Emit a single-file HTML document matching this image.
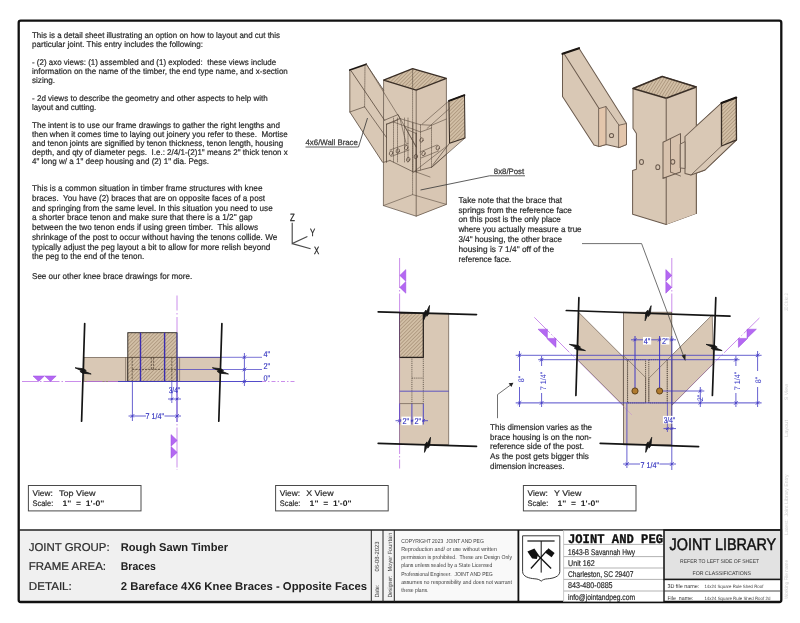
<!DOCTYPE html>
<html lang="en">
<head>
<meta charset="utf-8">
<title>2 Bareface 4X6 Knee Braces - Opposite Faces</title>
<style>
html,body{margin:0;padding:0;background:#fff;}
body{width:800px;height:623px;overflow:hidden;}
svg{display:block;will-change:transform;filter:blur(0.45px);font-family:"Liberation Sans",sans-serif;fill:#2a2a2a;}
svg text{white-space:pre;text-rendering:geometricPrecision;}
#para1 text,#para2 text,#note1 text,#note2 text{stroke:#2a2a2a;stroke-width:0.2px;}
</style>
</head>
<body>
<svg width="800" height="623" viewBox="0 0 800 623">
<defs>
<pattern id="hatch" width="2.6" height="2.6" patternUnits="userSpaceOnUse" patternTransform="rotate(-45)">
<rect width="2.6" height="2.6" fill="#d2bfa6"/>
<line x1="0" y1="1.3" x2="2.6" y2="1.3" stroke="#9c866c" stroke-width="0.6"/>
</pattern>
<pattern id="hatch2" width="2.6" height="2.6" patternUnits="userSpaceOnUse" patternTransform="rotate(-58)">
<rect width="2.6" height="2.6" fill="#d2bfa6"/>
<line x1="0" y1="1.3" x2="2.6" y2="1.3" stroke="#9c866c" stroke-width="0.6"/>
</pattern>
</defs>
<rect x="0" y="0" width="800" height="623" fill="#ffffff"/>
<rect x="18.7" y="530" width="352.6" height="72" fill="#f0f0f0"/>
<rect x="371.3" y="530" width="23" height="72" fill="#f3f3f3"/>
<rect x="394.3" y="530" width="124" height="72" fill="#f9f9f9"/>
<rect x="664" y="530" width="117.3" height="49.4" fill="#e2e2e2"/>
<rect x="18.7" y="20.7" width="762.6" height="581.3" rx="2" ry="2" fill="none" stroke="#111" stroke-width="2.3"/>
<line x1="18.7" y1="530" x2="781.3" y2="530" stroke="#222" stroke-width="1.3"/>
<g id="para1">
<text x="32" y="37.6" font-size="8.2" textLength="248" lengthAdjust="spacingAndGlyphs">This is a detail sheet illustrating an option on how to layout and cut this</text>
<text x="32" y="46.64" font-size="8.2" textLength="171" lengthAdjust="spacingAndGlyphs">particular joint. This entry includes the following:</text>
<text x="32" y="64.72" font-size="8.2" textLength="244.2" lengthAdjust="spacingAndGlyphs">- (2) axo views: (1) assembled and (1) exploded:  these views include</text>
<text x="32" y="73.76" font-size="8.2" textLength="255.8" lengthAdjust="spacingAndGlyphs">information on the name of the timber, the end type name, and x-section</text>
<text x="32" y="82.8" font-size="8.2" textLength="23" lengthAdjust="spacingAndGlyphs">sizing.</text>
<text x="32" y="100.88" font-size="8.2" textLength="235.8" lengthAdjust="spacingAndGlyphs">- 2d views to describe the geometry and other aspects to help with</text>
<text x="32" y="109.92" font-size="8.2" textLength="64.3" lengthAdjust="spacingAndGlyphs">layout and cutting.</text>
<text x="32" y="128.0" font-size="8.2" textLength="248" lengthAdjust="spacingAndGlyphs">The intent is to use our frame drawings to gather the right lengths and</text>
<text x="32" y="137.04" font-size="8.2" textLength="255.8" lengthAdjust="spacingAndGlyphs">then when it comes time to laying out joinery you refer to these.  Mortise</text>
<text x="32" y="146.08" font-size="8.2" textLength="251.2" lengthAdjust="spacingAndGlyphs">and tenon joints are signified by tenon thickness, tenon length, housing</text>
<text x="32" y="155.12" font-size="8.2" textLength="255.8" lengthAdjust="spacingAndGlyphs">depth, and qty of diameter pegs.  I.e.: 2/4/1-(2)1" means 2" thick tenon x</text>
<text x="32" y="164.16" font-size="8.2" textLength="177" lengthAdjust="spacingAndGlyphs">4" long w/ a 1" deep housing and (2) 1" dia. Pegs.</text>
</g>
<g id="para2">
<text x="32" y="191.0" font-size="8.5" textLength="230.5" lengthAdjust="spacingAndGlyphs">This is a common situation in timber frame structures with knee</text>
<text x="32" y="200.75" font-size="8.5" textLength="233" lengthAdjust="spacingAndGlyphs">braces.  You have (2) braces that are on opposite faces of a post</text>
<text x="32" y="210.5" font-size="8.5" textLength="240.7" lengthAdjust="spacingAndGlyphs">and springing from the same level. In this situation you need to use</text>
<text x="32" y="220.25" font-size="8.5" textLength="220.7" lengthAdjust="spacingAndGlyphs">a shorter brace tenon and make sure that there is a 1/2" gap</text>
<text x="32" y="230.0" font-size="8.5" textLength="226" lengthAdjust="spacingAndGlyphs">between the two tenon ends if using green timber.  This allows</text>
<text x="32" y="239.75" font-size="8.5" textLength="245.3" lengthAdjust="spacingAndGlyphs">shrinkage of the post to occur without having the tenons collide. We</text>
<text x="32" y="249.5" font-size="8.5" textLength="238.3" lengthAdjust="spacingAndGlyphs">typically adjust the peg layout a bit to allow for more relish beyond</text>
<text x="32" y="259.25" font-size="8.5" textLength="112.3" lengthAdjust="spacingAndGlyphs">the peg to the end of the tenon.</text>
<text x="32" y="278.75" font-size="8.5" textLength="160.2" lengthAdjust="spacingAndGlyphs">See our other knee brace drawings for more.</text>
</g>
<g id="note1">
<text x="458.5" y="202.7" font-size="8.4" textLength="103.6" lengthAdjust="spacingAndGlyphs">Take note that the brace that</text>
<text x="458.5" y="212.55" font-size="8.4" textLength="113.4" lengthAdjust="spacingAndGlyphs">springs from the reference face</text>
<text x="458.5" y="222.4" font-size="8.4" textLength="102.4" lengthAdjust="spacingAndGlyphs">on this post is the only place</text>
<text x="458.5" y="232.25" font-size="8.4" textLength="123.1" lengthAdjust="spacingAndGlyphs">where you actually measure a true</text>
<text x="458.5" y="242.1" font-size="8.4" textLength="103.6" lengthAdjust="spacingAndGlyphs">3/4" housing, the other brace</text>
<text x="458.5" y="251.95" font-size="8.4" textLength="95.6" lengthAdjust="spacingAndGlyphs">housing is 7 1/4" off of the</text>
<text x="458.5" y="261.8" font-size="8.4" textLength="52.8" lengthAdjust="spacingAndGlyphs">reference face.</text>
</g>
<g id="note2">
<text x="490.1" y="429.7" font-size="8.4" textLength="102.0" lengthAdjust="spacingAndGlyphs">This dimension varies as the</text>
<text x="490.1" y="439.55" font-size="8.4" textLength="101.4" lengthAdjust="spacingAndGlyphs">brace housing is on the non-</text>
<text x="490.1" y="449.4" font-size="8.4" textLength="94.0" lengthAdjust="spacingAndGlyphs">reference side of the post.</text>
<text x="490.1" y="459.25" font-size="8.4" textLength="98.8" lengthAdjust="spacingAndGlyphs">As the post gets bigger this</text>
<text x="490.1" y="469.1" font-size="8.4" textLength="74.3" lengthAdjust="spacingAndGlyphs">dimension increases.</text>
</g>
<g id="axo-assembled" stroke-linejoin="round" stroke-linecap="round">
<polygon points="349.8,70 366.3,64.2 383.6,90.2 383.6,162.3 382.6,162.3 349.8,112" fill="#d9c8b5"/>
<polygon points="446.4,103 448.8,100.9 464.5,95.1 465,138 446.4,154" fill="#d9c8b5"/>
<polygon points="383.6,80.1 412.6,68.6 446.4,78.4 446.4,204.4 416.2,216.2 383.4,205.6" fill="#d9c8b5"/>
<polygon points="416.2,90.2 446.4,78.4 446.4,204.4 416.2,216.2" fill="#d8c6b3"/>
<polygon points="383.6,80.1 412.6,68.6 446.4,78.4 416.2,90.2" fill="url(#hatch)" stroke="#3a2f27" stroke-width="1.26"/>
<polygon points="448.9,100.9 464.5,95.1 465,138 449.6,143.2" fill="url(#hatch)" stroke="#3a2f27" stroke-width="1.03"/>
<line x1="448.9" y1="100.9" x2="464.5" y2="95.1" stroke="#1a1512" stroke-width="1.72"/>
<polyline points="383.6,80.1 383.4,205.6 416.2,216.2 446.4,204.4 446.4,78.4" fill="none" stroke="#55463a" stroke-width="0.69"/>
<line x1="416.2" y1="90.2" x2="416.2" y2="216.2" stroke="#55463a" stroke-width="0.69"/>
<line x1="412.6" y1="68.6" x2="412.6" y2="194.6" stroke="#55463a" stroke-width="0.57" stroke-dasharray="0.9 0.9"/>
<polyline points="383.4,205.6 412.6,194.6 446.4,204.4" fill="none" stroke="#55463a" stroke-width="0.57"/>
<polyline points="382.6,162.3 349.8,112 349.8,70" fill="none" stroke="#55463a" stroke-width="0.8"/>
<line x1="349.8" y1="70" x2="366.3" y2="64.2" stroke="#1a1512" stroke-width="1.72"/>
<line x1="366.3" y1="64.2" x2="383.6" y2="90.2" stroke="#55463a" stroke-width="0.8"/>
<line x1="366.3" y1="64.2" x2="397.8" y2="115" stroke="#55463a" stroke-width="0.57"/>
<line x1="351.2" y1="71" x2="384.5" y2="120.2" stroke="#55463a" stroke-width="0.8"/>
<line x1="349.8" y1="112" x2="364.6" y2="106.8" stroke="#55463a" stroke-width="0.69"/>
<line x1="365" y1="64.8" x2="364.6" y2="106.8" stroke="#55463a" stroke-width="0.57" stroke-dasharray="0.9 0.9"/>
<line x1="364.6" y1="106.8" x2="386.5" y2="137.5" stroke="#55463a" stroke-width="0.69"/>
<polyline points="384.5,120.2 398,114.6 400,118.6 386.5,124.2" fill="none" stroke="#55463a" stroke-width="0.69"/>
<line x1="386.5" y1="124.2" x2="386.5" y2="162.3" stroke="#55463a" stroke-width="0.8"/>
<line x1="383.6" y1="162.3" x2="390" y2="160.5" stroke="#55463a" stroke-width="0.69"/>
<line x1="393.5" y1="118" x2="393.5" y2="162" stroke="#55463a" stroke-width="0.57" stroke-dasharray="0.9 0.9"/>
<line x1="397.5" y1="118" x2="397.5" y2="162" stroke="#55463a" stroke-width="0.57" stroke-dasharray="0.9 0.9"/>
<line x1="404.5" y1="118" x2="404.5" y2="162" stroke="#55463a" stroke-width="0.57" stroke-dasharray="0.9 0.9"/>
<line x1="408" y1="118" x2="408" y2="162" stroke="#55463a" stroke-width="0.57" stroke-dasharray="0.9 0.9"/>
<line x1="431.5" y1="125" x2="431.5" y2="168" stroke="#55463a" stroke-width="0.57" stroke-dasharray="0.9 0.9"/>
<polyline points="400,118.6 420,124.6 431.5,125.3 446.4,119" fill="none" stroke="#55463a" stroke-width="0.57"/>
<polyline points="390,160.5 413.5,172 432,167 465,138" fill="none" stroke="#55463a" stroke-width="0.69"/>
<line x1="416.2" y1="133" x2="416.2" y2="172" stroke="#55463a" stroke-width="1.03"/>
<line x1="398" y1="114.6" x2="416.2" y2="147" stroke="#55463a" stroke-width="0.57"/>
<line x1="400" y1="118.6" x2="406" y2="143" stroke="#55463a" stroke-width="0.57"/>
<line x1="422.3" y1="124" x2="448.9" y2="100.9" stroke="#55463a" stroke-width="0.57"/>
<line x1="427" y1="128.5" x2="449.5" y2="108.5" stroke="#55463a" stroke-width="0.57"/>
<line x1="432.6" y1="165.2" x2="449.6" y2="143.2" stroke="#55463a" stroke-width="0.69"/>
<line x1="413.5" y1="172" x2="446.4" y2="146.5" stroke="#55463a" stroke-width="0.57"/>
<line x1="416.2" y1="172" x2="430" y2="177" stroke="#55463a" stroke-width="0.57"/>
<line x1="420.5" y1="125" x2="420.5" y2="170" stroke="#55463a" stroke-width="0.57" stroke-dasharray="0.9 0.9"/>
<line x1="412.8" y1="123" x2="412.8" y2="172" stroke="#55463a" stroke-width="0.8" stroke-dasharray="0.9 0.9"/>
<polyline points="393.5,122 404.5,126 416.2,147" fill="none" stroke="#55463a" stroke-width="0.57"/>
<polyline points="386.5,124.2 393.5,122 398,119.4" fill="none" stroke="#55463a" stroke-width="0.57"/>
<line x1="404.5" y1="126" x2="420.5" y2="132" stroke="#55463a" stroke-width="0.57"/>
<line x1="408" y1="130" x2="416.2" y2="133.5" stroke="#55463a" stroke-width="0.57"/>
<line x1="420.5" y1="132" x2="431.5" y2="128" stroke="#55463a" stroke-width="0.57"/>
<polyline points="431.5,167.4 446.4,154" fill="none" stroke="#55463a" stroke-width="0.57"/>
<line x1="390" y1="150" x2="408" y2="143.5" stroke="#55463a" stroke-width="0.57"/>
<line x1="391" y1="156.5" x2="409" y2="150" stroke="#55463a" stroke-width="0.57"/>
<line x1="420" y1="152" x2="437" y2="145" stroke="#55463a" stroke-width="0.57"/>
<line x1="421" y1="158" x2="438.5" y2="151" stroke="#55463a" stroke-width="0.57"/>
<ellipse cx="391" cy="153.2" rx="1.6" ry="2.3" fill="none" stroke="#55463a" stroke-width="0.69" transform="rotate(18 391 153.2)"/>
<ellipse cx="397.8" cy="151" rx="1.6" ry="2.3" fill="none" stroke="#55463a" stroke-width="0.69" transform="rotate(18 397.8 151)"/>
<ellipse cx="406.2" cy="147.6" rx="1.6" ry="2.3" fill="none" stroke="#55463a" stroke-width="0.69" transform="rotate(18 406.2 147.6)"/>
<ellipse cx="421.5" cy="140" rx="1.6" ry="2.3" fill="none" stroke="#55463a" stroke-width="0.69" transform="rotate(18 421.5 140)"/>
<ellipse cx="408.2" cy="159.5" rx="1.6" ry="2.3" fill="none" stroke="#55463a" stroke-width="0.69" transform="rotate(18 408.2 159.5)"/>
<ellipse cx="415.8" cy="156.5" rx="1.6" ry="2.3" fill="none" stroke="#55463a" stroke-width="0.69" transform="rotate(18 415.8 156.5)"/>
<ellipse cx="423.5" cy="153.5" rx="1.6" ry="2.3" fill="none" stroke="#55463a" stroke-width="0.69" transform="rotate(18 423.5 153.5)"/>
<ellipse cx="437.8" cy="147.8" rx="1.6" ry="2.3" fill="none" stroke="#55463a" stroke-width="0.69" transform="rotate(18 437.8 147.8)"/>
</g>
<text x="305.5" y="145.2" font-size="7.9" textLength="52.4" lengthAdjust="spacingAndGlyphs" fill="#3a3a3a" stroke="#3a3a3a" stroke-width="0.25">4x6/Wall Brace</text>
<polyline points="305.5,147 358.5,147 367.5,118" fill="none" stroke="#333" stroke-width="0.8"/>
<text x="493.8" y="174" font-size="7.9" textLength="30.4" lengthAdjust="spacingAndGlyphs" fill="#3a3a3a" stroke="#3a3a3a" stroke-width="0.25">8x8/Post</text>
<polyline points="525,175.8 489.5,175.8 420.5,190" fill="none" stroke="#333" stroke-width="0.8"/>
<polyline points="292.2,222.8 292.2,243.6 307.4,236.4" fill="none" stroke="#4a4a4a" stroke-width="1.15"/>
<line x1="292.2" y1="243.6" x2="310.6" y2="248.8" stroke="#4a4a4a" stroke-width="1.15"/>
<text x="289.9" y="221" font-size="10.5" textLength="4.8" lengthAdjust="spacingAndGlyphs" fill="#222" stroke="#222" stroke-width="0.3">Z</text>
<text x="310" y="235.6" font-size="10.5" textLength="5.2" lengthAdjust="spacingAndGlyphs" fill="#222" stroke="#222" stroke-width="0.3">Y</text>
<text x="314" y="254" font-size="10.5" textLength="5.2" lengthAdjust="spacingAndGlyphs" fill="#222" stroke="#222" stroke-width="0.3">X</text>
<g id="axo-exploded" stroke-linejoin="round" stroke-linecap="round">
<polygon points="562.5,53.8 579,48.2 626.5,123.5 626.5,144.5 619,147.6 606,144.5 599,146.6 594,145 562.5,96.5" fill="#d9c8b5" stroke="#6b5b4e" stroke-width="1.01"/>
<polygon points="599,108.6 606,106.5 606,144.5 599,146.6" fill="#e3c6ac" stroke="#6b5b4e" stroke-width="0.87"/>
<polygon points="619,125.2 626.5,123.5 626.5,144.5 619,147.6" fill="#e3c6ac" stroke="#6b5b4e" stroke-width="0.87"/>
<line x1="564.6" y1="54.4" x2="599" y2="108.6" stroke="#6b5b4e" stroke-width="1.01"/>
<line x1="606" y1="106.5" x2="619" y2="125.2" stroke="#6b5b4e" stroke-width="0.87"/>
<line x1="562.5" y1="53.8" x2="579" y2="48.2" stroke="#1a1512" stroke-width="2.17"/>
<circle cx="611.5" cy="135.5" r="2.1" fill="none" stroke="#6b5b4e" stroke-width="1.01"/>
<polygon points="685,136.5 721.5,103 736.2,97.6 736.5,139.8 705,170 691,175 685,173.6" fill="#d9c8b5" stroke="#6b5b4e" stroke-width="1.01"/>
<polygon points="680.5,144 685,141.6 685,168.5 680.5,168" fill="#d9c8b5" stroke="#6b5b4e" stroke-width="0.87"/>
<polygon points="633,88.4 662.2,76.4 696.3,87 696.3,213.4 666.2,224.4 632.6,214.3 632.6,170.5 636.4,169.2 636.4,133.5 633,128.2" fill="#d9c8b5" stroke="#6b5b4e" stroke-width="1.01"/>
<polygon points="666.2,98.2 696.3,87 696.3,213.4 666.2,224.4" fill="#d8c6b3"/>
<polygon points="633,88.4 662.2,76.4 696.3,87 666.2,98.2" fill="url(#hatch2)" stroke="#3a2f27" stroke-width="1.59"/>
<line x1="666.2" y1="98.2" x2="666.2" y2="139.5" stroke="#6b5b4e" stroke-width="1.01"/>
<line x1="666.2" y1="177.5" x2="666.2" y2="224.4" stroke="#6b5b4e" stroke-width="1.01"/>
<line x1="696.3" y1="87" x2="696.3" y2="213.4" stroke="#6b5b4e" stroke-width="1.01"/>
<polygon points="663,142.2 680.5,133.6 680.5,172 663,178.2" fill="#d8c2ad" stroke="#6b5b4e" stroke-width="1.01"/>
<line x1="670.5" y1="139.2" x2="670.5" y2="172" stroke="#6b5b4e" stroke-width="0.87"/>
<polyline points="670.5,172 680.5,176" fill="none" stroke="#6b5b4e" stroke-width="0.87"/>
<line x1="663" y1="178.2" x2="666.2" y2="177.5" stroke="#6b5b4e" stroke-width="0.87"/>
<ellipse cx="641.5" cy="162" rx="2" ry="2.4" fill="none" stroke="#6b5b4e" stroke-width="1.01"/>
<ellipse cx="657.8" cy="167.2" rx="2" ry="2.4" fill="none" stroke="#6b5b4e" stroke-width="1.01"/>
<ellipse cx="672.8" cy="161.8" rx="2" ry="2.4" fill="none" stroke="#6b5b4e" stroke-width="1.01"/>
<polygon points="685,136.5 721.5,103 736.2,97.6 736.5,139.8 705,170 691,175 685,173.6" fill="#d9c8b5" stroke="#6b5b4e" stroke-width="1.01"/>
<polygon points="680.5,144 685,141.6 685,168.5 680.5,168" fill="#d9c8b5" stroke="#6b5b4e" stroke-width="0.87"/>
<polygon points="721.5,103 736.2,97.6 736.5,139.8 721.5,146" fill="url(#hatch)" stroke="#3a2f27" stroke-width="1.3"/>
<line x1="721.5" y1="103" x2="736.2" y2="97.6" stroke="#1a1512" stroke-width="2.17"/>
<line x1="721.5" y1="146" x2="691" y2="175" stroke="#6b5b4e" stroke-width="0.87"/>
</g>
<g id="top-view">
<rect x="83.9" y="357.3" width="43.9" height="24.1" fill="#d9c8b5" stroke="#55463a" stroke-width="0.6"/>
<rect x="177" y="357.3" width="43.3" height="24.1" fill="#d9c8b5" stroke="#55463a" stroke-width="0.6"/>
<rect x="127.8" y="332.7" width="49.2" height="48.7" fill="url(#hatch)" stroke="#2a2420" stroke-width="0.9"/>
<line x1="125.6" y1="357.3" x2="125.6" y2="381.4" stroke="#55463a" stroke-width="0.5"/>
<line x1="127.8" y1="357.4" x2="177" y2="357.4" stroke="#4a3c30" stroke-width="0.8"/>
<line x1="132.2" y1="369.4" x2="177" y2="369.4" stroke="#4a3c30" stroke-width="0.8" stroke-dasharray="2.2 1"/>
<line x1="132.2" y1="357.4" x2="132.2" y2="381.4" stroke="#4a3c30" stroke-width="0.7" stroke-dasharray="2.2 1"/>
<line x1="151.3" y1="357.4" x2="151.3" y2="369.4" stroke="#4a3c30" stroke-width="0.7" stroke-dasharray="2.2 1"/>
<line x1="153.6" y1="357.4" x2="153.6" y2="369.4" stroke="#4a3c30" stroke-width="0.7" stroke-dasharray="2.2 1"/>
<line x1="171.8" y1="357.4" x2="171.8" y2="381.4" stroke="#4a3c30" stroke-width="0.7" stroke-dasharray="2.2 1"/>
<line x1="179.6" y1="357.3" x2="179.6" y2="381.4" stroke="#55463a" stroke-width="0.5"/>
<line x1="140.5" y1="332.7" x2="140.5" y2="381.4" stroke="#3a2cb0" stroke-width="1.4"/>
<line x1="164.6" y1="332.7" x2="164.6" y2="381.4" stroke="#3a2cb0" stroke-width="1.4"/>
<line x1="22" y1="381.5" x2="118" y2="381.5" stroke="#b868e4" stroke-width="0.75" stroke-dasharray="16 2 1.5 2"/>
<line x1="262" y1="381.5" x2="295" y2="381.5" stroke="#b868e4" stroke-width="0.75" stroke-dasharray="4 2 1.5 2"/>
<line x1="177" y1="295.5" x2="177" y2="332" stroke="#b868e4" stroke-width="0.75" stroke-dasharray="15 2.5 1.5 2.5"/>
<line x1="177" y1="382" x2="177" y2="470" stroke="#b868e4" stroke-width="0.75" stroke-dasharray="40 2 1.5 2"/>
<polygon points="33,376 44.4,376 38.7,381.5" fill="#b468f2" stroke="#9a4be0" stroke-width="0.5"/>
<polygon points="44.8,376 56.2,376 50.5,381.5" fill="#b468f2" stroke="#9a4be0" stroke-width="0.5"/>
<polygon points="171,434.6 177.2,440.4 171,446.2" fill="#b468f2" stroke="#9a4be0" stroke-width="0.5"/>
<polygon points="171,446.6 177.2,452.4 171,458.2" fill="#b468f2" stroke="#9a4be0" stroke-width="0.5"/>
<line x1="118" y1="381.5" x2="262" y2="381.5" stroke="#4038c4" stroke-width="0.9"/>
<line x1="177" y1="357.3" x2="262" y2="357.3" stroke="#4038c4" stroke-width="0.7"/>
<line x1="177" y1="369.5" x2="262" y2="369.5" stroke="#4038c4" stroke-width="0.7"/>
<line x1="177" y1="332.7" x2="177" y2="422" stroke="#4038c4" stroke-width="0.8"/>
<line x1="244.4" y1="353" x2="244.4" y2="386" stroke="#4038c4" stroke-width="0.8"/>
<line x1="242.6" y1="359.1" x2="246.2" y2="355.5" stroke="#4038c4" stroke-width="0.9"/>
<line x1="242.96" y1="355.86" x2="245.84" y2="358.74" stroke="#4038c4" stroke-width="0.63"/>
<line x1="242.6" y1="371.3" x2="246.2" y2="367.7" stroke="#4038c4" stroke-width="0.9"/>
<line x1="242.96" y1="368.06" x2="245.84" y2="370.94" stroke="#4038c4" stroke-width="0.63"/>
<line x1="242.6" y1="383.3" x2="246.2" y2="379.7" stroke="#4038c4" stroke-width="0.9"/>
<line x1="242.96" y1="380.06" x2="245.84" y2="382.94" stroke="#4038c4" stroke-width="0.63"/>
<text x="263.6" y="357.3" font-size="8.3" textLength="6.6" lengthAdjust="spacingAndGlyphs" text-anchor="start" fill="#2b2bbd" stroke="#2b2bbd" stroke-width="0.12">4"</text>
<text x="263.6" y="369.1" font-size="8.3" textLength="6.6" lengthAdjust="spacingAndGlyphs" text-anchor="start" fill="#2b2bbd" stroke="#2b2bbd" stroke-width="0.12">2"</text>
<text x="263.6" y="381.4" font-size="8.3" textLength="6.6" lengthAdjust="spacingAndGlyphs" text-anchor="start" fill="#2b2bbd" stroke="#2b2bbd" stroke-width="0.12">0"</text>
<line x1="132.4" y1="381.5" x2="132.4" y2="421" stroke="#4038c4" stroke-width="0.8"/>
<line x1="171.8" y1="381.5" x2="171.8" y2="403" stroke="#4038c4" stroke-width="0.7"/>
<line x1="128.5" y1="416" x2="146" y2="416" stroke="#4038c4" stroke-width="0.8"/>
<line x1="164.5" y1="416" x2="181" y2="416" stroke="#4038c4" stroke-width="0.8"/>
<line x1="130.6" y1="417.8" x2="134.2" y2="414.2" stroke="#4038c4" stroke-width="0.9"/>
<line x1="130.96" y1="414.56" x2="133.84" y2="417.44" stroke="#4038c4" stroke-width="0.63"/>
<line x1="175.2" y1="417.8" x2="178.8" y2="414.2" stroke="#4038c4" stroke-width="0.9"/>
<line x1="175.56" y1="414.56" x2="178.44" y2="417.44" stroke="#4038c4" stroke-width="0.63"/>
<text x="154.8" y="419.1" font-size="8.3" textLength="18.6" lengthAdjust="spacingAndGlyphs" text-anchor="middle" fill="#2b2bbd" stroke="#2b2bbd" stroke-width="0.12">7 1/4"</text>
<line x1="168" y1="399" x2="181" y2="399" stroke="#4038c4" stroke-width="0.8"/>
<line x1="170.4" y1="400.4" x2="173.2" y2="397.6" stroke="#4038c4" stroke-width="0.9"/>
<line x1="170.68" y1="397.88" x2="172.92" y2="400.12" stroke="#4038c4" stroke-width="0.63"/>
<line x1="175.6" y1="400.4" x2="178.4" y2="397.6" stroke="#4038c4" stroke-width="0.9"/>
<line x1="175.88" y1="397.88" x2="178.12" y2="400.12" stroke="#4038c4" stroke-width="0.63"/>
<text x="174.4" y="392.5" font-size="8.3" textLength="11.4" lengthAdjust="spacingAndGlyphs" text-anchor="middle" fill="#2b2bbd" stroke="#2b2bbd" stroke-width="0.12">3/4"</text>
<line x1="84.7" y1="323.5" x2="81.6" y2="421.2" stroke="#151515" stroke-width="1.7" stroke-linecap="round"/>
<polygon points="75.04,367.75 83.66,368.76 86.24,370.55 84.44,371.11 91.16,374.02 82.54,373.24 79.96,371.45 81.76,370.89" fill="#151515" stroke="#151515" stroke-width="0.8" stroke-linejoin="round"/>
<line x1="221.9" y1="323.5" x2="218.8" y2="421.2" stroke="#151515" stroke-width="1.7" stroke-linecap="round"/>
<polygon points="212.34,367.75 220.96,368.76 223.54,370.55 221.74,371.11 228.46,374.02 219.84,373.24 217.26,371.45 219.06,370.89" fill="#151515" stroke="#151515" stroke-width="0.8" stroke-linejoin="round"/>
</g>
<g id="x-view">
<rect x="399.6" y="313.2" width="49.2" height="131.4" fill="#d9c8b5" stroke="#55463a" stroke-width="0.6"/>
<rect x="399.6" y="313.2" width="23.7" height="44.2" fill="url(#hatch)" stroke="#2a2420" stroke-width="0.8"/>
<line x1="399.6" y1="357.4" x2="423.3" y2="357.4" stroke="#2a2420" stroke-width="1.3"/>
<line x1="423.3" y1="313.2" x2="423.3" y2="357.4" stroke="#2a2420" stroke-width="1.1"/>
<line x1="411.9" y1="357.4" x2="411.9" y2="403.6" stroke="#3a3028" stroke-width="0.7" stroke-dasharray="1 0.9"/>
<line x1="423.3" y1="357.4" x2="423.3" y2="403.6" stroke="#3a3028" stroke-width="0.7" stroke-dasharray="1 0.9"/>
<line x1="411.9" y1="378.1" x2="423.3" y2="378.1" stroke="#3a3028" stroke-width="0.7" stroke-dasharray="1 0.9"/>
<line x1="399.6" y1="403.6" x2="423.3" y2="403.6" stroke="#55463a" stroke-width="0.6"/>
<line x1="399.6" y1="391.2" x2="448.8" y2="391.2" stroke="#4038c4" stroke-width="0.8"/>
<line x1="399.6" y1="403.6" x2="399.6" y2="424.5" stroke="#4038c4" stroke-width="0.9"/>
<line x1="411.9" y1="403.6" x2="411.9" y2="424.5" stroke="#4038c4" stroke-width="0.9"/>
<line x1="423.3" y1="403.6" x2="423.3" y2="424.5" stroke="#4038c4" stroke-width="0.9"/>
<line x1="395.5" y1="420.7" x2="428" y2="420.7" stroke="#4038c4" stroke-width="0.8"/>
<line x1="398" y1="422.3" x2="401.2" y2="419.1" stroke="#4038c4" stroke-width="0.9"/>
<line x1="398.32" y1="419.42" x2="400.88" y2="421.98" stroke="#4038c4" stroke-width="0.63"/>
<line x1="410.3" y1="422.3" x2="413.5" y2="419.1" stroke="#4038c4" stroke-width="0.9"/>
<line x1="410.62" y1="419.42" x2="413.18" y2="421.98" stroke="#4038c4" stroke-width="0.63"/>
<line x1="421.7" y1="422.3" x2="424.9" y2="419.1" stroke="#4038c4" stroke-width="0.9"/>
<line x1="422.02" y1="419.42" x2="424.58" y2="421.98" stroke="#4038c4" stroke-width="0.63"/>
<rect x="401.4" y="416.6" width="9.2" height="8.6" fill="#fff"/>
<rect x="413.4" y="416.6" width="8.8" height="8.6" fill="#fff"/>
<text x="405.8" y="424.2" font-size="8.3" textLength="6.6" lengthAdjust="spacingAndGlyphs" text-anchor="middle" fill="#2b2bbd" stroke="#2b2bbd" stroke-width="0.12">2"</text>
<text x="417.8" y="424.2" font-size="8.3" textLength="6.6" lengthAdjust="spacingAndGlyphs" text-anchor="middle" fill="#2b2bbd" stroke="#2b2bbd" stroke-width="0.12">2"</text>
<line x1="399.6" y1="258" x2="399.6" y2="313" stroke="#b868e4" stroke-width="0.75" stroke-dasharray="30 2 1.5 2"/>
<line x1="399.6" y1="313" x2="399.6" y2="445" stroke="#b868e4" stroke-width="0.6" stroke-opacity="0.6"/>
<line x1="399.6" y1="445" x2="399.6" y2="469" stroke="#b868e4" stroke-width="0.75" stroke-dasharray="9 2 1.5 2"/>
<polygon points="405.8,269.6 399.8,275.4 405.8,281.2" fill="#b468f2" stroke="#9a4be0" stroke-width="0.5"/>
<polygon points="405.8,281.6 399.8,287.4 405.8,293.2" fill="#b468f2" stroke="#9a4be0" stroke-width="0.5"/>
<line x1="378.2" y1="311.8" x2="476.5" y2="314.6" stroke="#151515" stroke-width="1.7" stroke-linecap="round"/>
<polygon points="429.54,305.47 428.75,313.76 426.85,316.34 426.29,314.54 423.49,320.59 424.05,312.64 425.95,310.06 426.51,311.86" fill="#151515" stroke="#151515" stroke-width="0.8" stroke-linejoin="round"/>
<line x1="378.2" y1="443.4" x2="476.5" y2="446.4" stroke="#151515" stroke-width="1.7" stroke-linecap="round"/>
<polygon points="430.54,437.27 429.75,445.56 427.85,448.14 427.29,446.34 424.49,452.39 425.05,444.44 426.95,441.86 427.51,443.66" fill="#151515" stroke="#151515" stroke-width="0.8" stroke-linejoin="round"/>
</g>
<g id="y-view">
<polygon points="578.9,312.6 623.4,357.1 623.4,405.6 577.4,359.6" fill="#d9c8b5" stroke="#55463a" stroke-width="0.6"/>
<polygon points="712.2,314.9 671.8,355.3 671.8,405.3 713.6,363.5" fill="#d9c8b5" stroke="#55463a" stroke-width="0.6"/>
<rect x="623.4" y="312.2" width="48.4" height="132.6" fill="#d9c8b5" stroke="#55463a" stroke-width="0.7"/>
<line x1="627.4" y1="359.7" x2="627.4" y2="403" stroke="#55463a" stroke-width="0.5" stroke-dasharray="1 0.9"/>
<line x1="667.4" y1="359.7" x2="667.4" y2="403" stroke="#55463a" stroke-width="0.5" stroke-dasharray="1 0.9"/>
<rect x="627.6" y="359.7" width="18" height="43.2" fill="none" stroke="#3a3028" stroke-width="0.75" stroke-dasharray="1.3 0.8"/>
<rect x="648.8" y="359.7" width="18.4" height="43.2" fill="none" stroke="#3a3028" stroke-width="0.75" stroke-dasharray="1.3 0.8"/>
<polyline points="623.4,355.3 645.6,377.5 645.6,403" fill="none" stroke="#55463a" stroke-width="0.5"/>
<polyline points="671.8,355.3 648.8,378.3 648.8,403" fill="none" stroke="#55463a" stroke-width="0.5"/>
<line x1="623.4" y1="357.1" x2="627.4" y2="361.1" stroke="#55463a" stroke-width="0.5"/>
<line x1="671.8" y1="258" x2="671.8" y2="312" stroke="#b868e4" stroke-width="0.75" stroke-dasharray="30 2 1.5 2"/>
<polygon points="665.8,269.6 671.8,275.4 665.8,281.2" fill="#b468f2" stroke="#9a4be0" stroke-width="0.5"/>
<polygon points="665.8,281.6 671.8,287.4 665.8,293.2" fill="#b468f2" stroke="#9a4be0" stroke-width="0.5"/>
<line x1="534.3" y1="317.3" x2="572.5" y2="355.5" stroke="#b868e4" stroke-width="0.75" stroke-dasharray="22 2 1.5 2"/>
<line x1="759.4" y1="318" x2="716.6" y2="360.2" stroke="#b868e4" stroke-width="0.75" stroke-dasharray="22 2 1.5 2"/>
<line x1="572.5" y1="355.5" x2="632" y2="415" stroke="#b868e4" stroke-width="0.6" stroke-opacity="0.55"/>
<line x1="716.6" y1="360.2" x2="674.4" y2="402.8" stroke="#b868e4" stroke-width="0.6" stroke-opacity="0.55"/>
<polygon points="538,329.2 547.4,329.2 547.4,338.2" fill="#b468f2" stroke="#9a4be0" stroke-width="0.5"/>
<polygon points="546.8,338.4 556,338.4 556,347.4" fill="#b468f2" stroke="#9a4be0" stroke-width="0.5"/>
<polygon points="756.4,329.2 747,329.2 747,338.2" fill="#b468f2" stroke="#9a4be0" stroke-width="0.5"/>
<polygon points="747.6,338.4 738.4,338.4 738.4,347.4" fill="#b468f2" stroke="#9a4be0" stroke-width="0.5"/>
<line x1="515.7" y1="355.3" x2="761.6" y2="355.3" stroke="#4038c4" stroke-width="0.8"/>
<line x1="538.2" y1="359.7" x2="739.5" y2="359.7" stroke="#4038c4" stroke-width="0.8"/>
<line x1="515.7" y1="402.9" x2="761.6" y2="402.9" stroke="#4038c4" stroke-width="0.9"/>
<line x1="519.5" y1="351" x2="519.5" y2="371" stroke="#4038c4" stroke-width="0.8"/>
<line x1="519.5" y1="387" x2="519.5" y2="407" stroke="#4038c4" stroke-width="0.8"/>
<line x1="541.6" y1="356" x2="541.6" y2="366" stroke="#4038c4" stroke-width="0.8"/>
<line x1="541.6" y1="393" x2="541.6" y2="407" stroke="#4038c4" stroke-width="0.8"/>
<line x1="517.7" y1="357.1" x2="521.3" y2="353.5" stroke="#4038c4" stroke-width="0.9"/>
<line x1="518.06" y1="353.86" x2="520.94" y2="356.74" stroke="#4038c4" stroke-width="0.63"/>
<line x1="517.7" y1="404.7" x2="521.3" y2="401.1" stroke="#4038c4" stroke-width="0.9"/>
<line x1="518.06" y1="401.46" x2="520.94" y2="404.34" stroke="#4038c4" stroke-width="0.63"/>
<line x1="539.8" y1="361.5" x2="543.4" y2="357.9" stroke="#4038c4" stroke-width="0.9"/>
<line x1="540.16" y1="358.26" x2="543.04" y2="361.14" stroke="#4038c4" stroke-width="0.63"/>
<line x1="539.8" y1="404.7" x2="543.4" y2="401.1" stroke="#4038c4" stroke-width="0.9"/>
<line x1="540.16" y1="401.46" x2="543.04" y2="404.34" stroke="#4038c4" stroke-width="0.63"/>
<text x="524" y="379" font-size="7.968" textLength="6.6" lengthAdjust="spacingAndGlyphs" text-anchor="middle" fill="#3636c4" transform="rotate(-90 524 379)">8"</text>
<text x="545.6" y="381" font-size="7.968" textLength="18.6" lengthAdjust="spacingAndGlyphs" text-anchor="middle" fill="#3636c4" transform="rotate(-90 545.6 381)">7 1/4"</text>
<line x1="735.9" y1="356" x2="735.9" y2="366" stroke="#4038c4" stroke-width="0.8"/>
<line x1="735.9" y1="393" x2="735.9" y2="407" stroke="#4038c4" stroke-width="0.8"/>
<line x1="757.6" y1="351" x2="757.6" y2="371" stroke="#4038c4" stroke-width="0.8"/>
<line x1="757.6" y1="387" x2="757.6" y2="407" stroke="#4038c4" stroke-width="0.8"/>
<line x1="734.1" y1="361.5" x2="737.7" y2="357.9" stroke="#4038c4" stroke-width="0.9"/>
<line x1="734.46" y1="358.26" x2="737.34" y2="361.14" stroke="#4038c4" stroke-width="0.63"/>
<line x1="734.1" y1="404.7" x2="737.7" y2="401.1" stroke="#4038c4" stroke-width="0.9"/>
<line x1="734.46" y1="401.46" x2="737.34" y2="404.34" stroke="#4038c4" stroke-width="0.63"/>
<line x1="755.8" y1="357.1" x2="759.4" y2="353.5" stroke="#4038c4" stroke-width="0.9"/>
<line x1="756.16" y1="353.86" x2="759.04" y2="356.74" stroke="#4038c4" stroke-width="0.63"/>
<line x1="755.8" y1="404.7" x2="759.4" y2="401.1" stroke="#4038c4" stroke-width="0.9"/>
<line x1="756.16" y1="401.46" x2="759.04" y2="404.34" stroke="#4038c4" stroke-width="0.63"/>
<text x="740" y="381" font-size="7.968" textLength="18.6" lengthAdjust="spacingAndGlyphs" text-anchor="middle" fill="#3636c4" transform="rotate(-90 740 381)">7 1/4"</text>
<text x="761.4" y="380" font-size="7.968" textLength="6.6" lengthAdjust="spacingAndGlyphs" text-anchor="middle" fill="#3636c4" transform="rotate(-90 761.4 380)">8"</text>
<line x1="635" y1="336" x2="635" y2="388" stroke="#4038c4" stroke-width="1"/>
<line x1="659.6" y1="336" x2="659.6" y2="388" stroke="#4038c4" stroke-width="1"/>
<line x1="671.8" y1="336" x2="671.8" y2="470" stroke="#4038c4" stroke-width="0.8"/>
<line x1="631" y1="339.8" x2="676" y2="339.8" stroke="#4038c4" stroke-width="0.8"/>
<line x1="633.4" y1="341.4" x2="636.6" y2="338.2" stroke="#4038c4" stroke-width="0.9"/>
<line x1="633.72" y1="338.52" x2="636.28" y2="341.08" stroke="#4038c4" stroke-width="0.63"/>
<line x1="658" y1="341.4" x2="661.2" y2="338.2" stroke="#4038c4" stroke-width="0.9"/>
<line x1="658.32" y1="338.52" x2="660.88" y2="341.08" stroke="#4038c4" stroke-width="0.63"/>
<line x1="670.2" y1="341.4" x2="673.4" y2="338.2" stroke="#4038c4" stroke-width="0.9"/>
<line x1="670.52" y1="338.52" x2="673.08" y2="341.08" stroke="#4038c4" stroke-width="0.63"/>
<rect x="643" y="336.96" width="8.2" height="7.636" fill="#fff"/>
<text x="647.1" y="343.6" font-size="8.3" textLength="6.6" lengthAdjust="spacingAndGlyphs" text-anchor="middle" fill="#2b2bbd" stroke="#2b2bbd" stroke-width="0.12">4"</text>
<rect x="661.2" y="336.96" width="8.2" height="7.636" fill="#fff"/>
<text x="665.3" y="343.6" font-size="8.3" textLength="6.6" lengthAdjust="spacingAndGlyphs" text-anchor="middle" fill="#2b2bbd" stroke="#2b2bbd" stroke-width="0.12">2"</text>
<line x1="662.6" y1="391" x2="704.3" y2="391" stroke="#4038c4" stroke-width="0.8"/>
<line x1="700.3" y1="387" x2="700.3" y2="407" stroke="#4038c4" stroke-width="0.8"/>
<line x1="698.7" y1="392.6" x2="701.9" y2="389.4" stroke="#4038c4" stroke-width="0.9"/>
<line x1="699.02" y1="389.72" x2="701.58" y2="392.28" stroke="#4038c4" stroke-width="0.63"/>
<line x1="698.7" y1="404.5" x2="701.9" y2="401.3" stroke="#4038c4" stroke-width="0.9"/>
<line x1="699.02" y1="401.62" x2="701.58" y2="404.18" stroke="#4038c4" stroke-width="0.63"/>
<text x="703.4" y="398" font-size="7.968" textLength="6.6" lengthAdjust="spacingAndGlyphs" text-anchor="middle" fill="#3636c4" transform="rotate(-90 703.4 398)">2"</text>
<circle cx="635" cy="391" r="3.1" fill="#b07a2e" stroke="#5a3c14" stroke-width="0.9"/>
<circle cx="659.6" cy="391" r="3.1" fill="#b07a2e" stroke="#5a3c14" stroke-width="0.9"/>
<line x1="626.9" y1="403" x2="626.9" y2="468" stroke="#4038c4" stroke-width="0.8"/>
<line x1="667.4" y1="403" x2="667.4" y2="432" stroke="#4038c4" stroke-width="0.7"/>
<line x1="623" y1="464" x2="640" y2="464" stroke="#4038c4" stroke-width="0.8"/>
<line x1="659.5" y1="464" x2="676" y2="464" stroke="#4038c4" stroke-width="0.8"/>
<line x1="625.1" y1="465.8" x2="628.7" y2="462.2" stroke="#4038c4" stroke-width="0.9"/>
<line x1="625.46" y1="462.56" x2="628.34" y2="465.44" stroke="#4038c4" stroke-width="0.63"/>
<line x1="670" y1="465.8" x2="673.6" y2="462.2" stroke="#4038c4" stroke-width="0.9"/>
<line x1="670.36" y1="462.56" x2="673.24" y2="465.44" stroke="#4038c4" stroke-width="0.63"/>
<text x="649.8" y="467.6" font-size="8.3" textLength="18.6" lengthAdjust="spacingAndGlyphs" text-anchor="middle" fill="#2b2bbd" stroke="#2b2bbd" stroke-width="0.12">7 1/4"</text>
<line x1="663.5" y1="428.6" x2="676" y2="428.6" stroke="#4038c4" stroke-width="0.8"/>
<line x1="666" y1="430" x2="668.8" y2="427.2" stroke="#4038c4" stroke-width="0.9"/>
<line x1="666.28" y1="427.48" x2="668.52" y2="429.72" stroke="#4038c4" stroke-width="0.63"/>
<line x1="670.4" y1="430" x2="673.2" y2="427.2" stroke="#4038c4" stroke-width="0.9"/>
<line x1="670.68" y1="427.48" x2="672.92" y2="429.72" stroke="#4038c4" stroke-width="0.63"/>
<rect x="662.9" y="415.86" width="13" height="7.636" fill="#fff"/>
<text x="669.4" y="422.5" font-size="8.3" textLength="11.4" lengthAdjust="spacingAndGlyphs" text-anchor="middle" fill="#2b2bbd" stroke="#2b2bbd" stroke-width="0.12">3/4"</text>
<line x1="566.3" y1="310.5" x2="730" y2="316.1" stroke="#151515" stroke-width="1.7" stroke-linecap="round"/>
<polygon points="651.14,305.67 650.35,313.96 648.45,316.54 647.89,314.74 645.09,320.79 645.65,312.84 647.55,310.26 648.11,312.06" fill="#151515" stroke="#151515" stroke-width="0.8" stroke-linejoin="round"/>
<line x1="600.2" y1="443.3" x2="698.6" y2="446.7" stroke="#151515" stroke-width="1.7" stroke-linecap="round"/>
<polygon points="651.74,437.27 650.95,445.56 649.05,448.14 648.49,446.34 645.69,452.39 646.25,444.44 648.15,441.86 648.71,443.66" fill="#151515" stroke="#151515" stroke-width="0.8" stroke-linejoin="round"/>
<line x1="578.9" y1="297.7" x2="575.9" y2="395.5" stroke="#151515" stroke-width="1.7" stroke-linecap="round"/>
<polygon points="569.34,344.35 577.96,345.36 580.54,347.15 578.74,347.71 585.46,350.62 576.84,349.84 574.26,348.05 576.06,347.49" fill="#151515" stroke="#151515" stroke-width="0.8" stroke-linejoin="round"/>
<line x1="715.8" y1="297.7" x2="712.4" y2="395.5" stroke="#151515" stroke-width="1.7" stroke-linecap="round"/>
<polygon points="706.04,344.35 714.66,345.36 717.24,347.15 715.44,347.71 722.16,350.62 713.54,349.84 710.96,348.05 712.76,347.49" fill="#151515" stroke="#151515" stroke-width="0.8" stroke-linejoin="round"/>
</g>
<polyline points="582,243.6 641.6,243.6 684.4,358.2" fill="none" stroke="#333" stroke-width="0.7"/>
<polygon points="685.4,361 681.6,355.4 685.6,354.2" fill="#222"/>
<polyline points="497.5,418.2 497.5,394.6 511.6,384.2" fill="none" stroke="#333" stroke-width="0.7"/>
<polygon points="513.4,382.8 511.4,387 508.6,383.2" fill="#222"/>
<rect x="28.4" y="485.5" width="112.6" height="25.4" fill="#fff" stroke="#4a4a4a" stroke-width="1"/>
<text x="32.6" y="495.5" font-size="8.1" textLength="20.2" lengthAdjust="spacingAndGlyphs" stroke="#2a2a2a" stroke-width="0.2">View:</text>
<text x="59.0" y="495.5" font-size="8.1" textLength="36.6" lengthAdjust="spacingAndGlyphs" stroke="#2a2a2a" stroke-width="0.2">Top View</text>
<text x="32.6" y="505.9" font-size="8.1" textLength="20.6" lengthAdjust="spacingAndGlyphs" stroke="#2a2a2a" stroke-width="0.2">Scale:</text>
<text x="62.4" y="505.9" font-size="8.1" textLength="42" lengthAdjust="spacingAndGlyphs" font-weight="bold" fill="#222">1"  =  1'-0"</text>
<rect x="275.6" y="485.5" width="112.6" height="25.4" fill="#fff" stroke="#4a4a4a" stroke-width="1"/>
<text x="279.8" y="495.5" font-size="8.1" textLength="20.2" lengthAdjust="spacingAndGlyphs" stroke="#2a2a2a" stroke-width="0.2">View:</text>
<text x="306.20000000000005" y="495.5" font-size="8.1" textLength="27.4" lengthAdjust="spacingAndGlyphs" stroke="#2a2a2a" stroke-width="0.2">X View</text>
<text x="279.8" y="505.9" font-size="8.1" textLength="20.6" lengthAdjust="spacingAndGlyphs" stroke="#2a2a2a" stroke-width="0.2">Scale:</text>
<text x="309.6" y="505.9" font-size="8.1" textLength="42" lengthAdjust="spacingAndGlyphs" font-weight="bold" fill="#222">1"  =  1'-0"</text>
<rect x="523.4" y="485.5" width="112.6" height="25.4" fill="#fff" stroke="#4a4a4a" stroke-width="1"/>
<text x="527.6" y="495.5" font-size="8.1" textLength="20.2" lengthAdjust="spacingAndGlyphs" stroke="#2a2a2a" stroke-width="0.2">View:</text>
<text x="554.0" y="495.5" font-size="8.1" textLength="27.4" lengthAdjust="spacingAndGlyphs" stroke="#2a2a2a" stroke-width="0.2">Y View</text>
<text x="527.6" y="505.9" font-size="8.1" textLength="20.6" lengthAdjust="spacingAndGlyphs" stroke="#2a2a2a" stroke-width="0.2">Scale:</text>
<text x="557.4" y="505.9" font-size="8.1" textLength="42" lengthAdjust="spacingAndGlyphs" font-weight="bold" fill="#222">1"  =  1'-0"</text>
<g id="title-block">
<text x="28.8" y="550.6" font-size="11.4" textLength="80.8" lengthAdjust="spacingAndGlyphs" stroke="#2a2a2a" stroke-width="0.2">JOINT GROUP:</text>
<text x="120.8" y="550.6" font-size="11.3" textLength="107.2" lengthAdjust="spacingAndGlyphs" font-weight="bold" fill="#222">Rough Sawn Timber</text>
<text x="28.8" y="570.1" font-size="11.4" textLength="77.2" lengthAdjust="spacingAndGlyphs" stroke="#2a2a2a" stroke-width="0.2">FRAME AREA:</text>
<text x="120.8" y="570.1" font-size="11.3" textLength="35" lengthAdjust="spacingAndGlyphs" font-weight="bold" fill="#222">Braces</text>
<text x="28.8" y="589.6" font-size="11.4" textLength="43" lengthAdjust="spacingAndGlyphs" stroke="#2a2a2a" stroke-width="0.2">DETAIL:</text>
<text x="120.8" y="589.6" font-size="11.3" textLength="246.2" lengthAdjust="spacingAndGlyphs" font-weight="bold" fill="#222">2 Bareface 4X6 Knee Braces - Opposite Faces</text>
<line x1="371.3" y1="530" x2="371.3" y2="602" stroke="#222" stroke-width="1"/>
<line x1="383" y1="530" x2="383" y2="602" stroke="#222" stroke-width="1"/>
<line x1="394.3" y1="530" x2="394.3" y2="602" stroke="#222" stroke-width="1"/>
<line x1="518.4" y1="530" x2="518.4" y2="602" stroke="#111" stroke-width="1.8"/>
<text x="379.4" y="597.6" font-size="6" textLength="13" lengthAdjust="spacingAndGlyphs" fill="#444" transform="rotate(-90 379.4 597.6)">Date:</text>
<text x="379.4" y="571.4" font-size="6" textLength="30" lengthAdjust="spacingAndGlyphs" fill="#444" transform="rotate(-90 379.4 571.4)">06-08-2023</text>
<text x="391.6" y="597.6" font-size="6" textLength="22" lengthAdjust="spacingAndGlyphs" fill="#444" transform="rotate(-90 391.6 597.6)">Designer:</text>
<text x="391.6" y="571.4" font-size="6" textLength="38.8" lengthAdjust="spacingAndGlyphs" fill="#444" transform="rotate(-90 391.6 571.4)">Moyer Fountain</text>
<text x="401.2" y="542.6" font-size="5.8" textLength="82.6" lengthAdjust="spacingAndGlyphs" fill="#3c3c3c">COPYRIGHT 2023  JOINT AND PEG</text>
<text x="401.2" y="550.85" font-size="5.8" textLength="95.8" lengthAdjust="spacingAndGlyphs" fill="#3c3c3c">Reproduction and/ or use without written</text>
<text x="401.2" y="559.1" font-size="5.8" textLength="110.8" lengthAdjust="spacingAndGlyphs" fill="#3c3c3c">permission is prohibited.  These are Design Only</text>
<text x="401.2" y="567.35" font-size="5.8" textLength="91.2" lengthAdjust="spacingAndGlyphs" fill="#3c3c3c">plans unless sealed by a State Licensed</text>
<text x="401.2" y="575.6" font-size="5.8" textLength="91.6" lengthAdjust="spacingAndGlyphs" fill="#3c3c3c">Professional Engineer.  JOINT AND PEG</text>
<text x="401.2" y="583.85" font-size="5.8" textLength="110.8" lengthAdjust="spacingAndGlyphs" fill="#3c3c3c">assumes no responsibility and does not warrant</text>
<text x="401.2" y="592.1" font-size="5.8" textLength="27.2" lengthAdjust="spacingAndGlyphs" fill="#3c3c3c">these plans.</text>
<path d="M522.6 535.8 H559.8 V571.5 C559.8 576.5 553.5 578.4 547.5 578.8 C544.5 579 542.5 579.8 541.2 581.2 C539.9 579.8 537.9 579 534.9 578.8 C528.9 578.4 522.6 576.5 522.6 571.5 Z" fill="#fff" stroke="#222" stroke-width="0.9"/>
<line x1="527.4" y1="541" x2="554.6" y2="541" stroke="#111" stroke-width="1.2"/>
<line x1="541.2" y1="541" x2="541.2" y2="572.6" stroke="#111" stroke-width="1"/>
<line x1="530.9" y1="568.5" x2="547.2" y2="550.4" stroke="#111" stroke-width="1.3"/>
<line x1="551.1" y1="568.5" x2="535.4" y2="552.8" stroke="#111" stroke-width="1.3"/>
<polygon points="527.4,551.6 534.4,548.6 538.2,554.2 536.8,559 532.2,558.6 530,555.4" fill="#111"/>
<polygon points="554.6,553 548.4,548.2 545.2,552.6 551.6,557.2" fill="#111"/>
<rect x="563.6" y="530.6" width="100.2" height="71" fill="#fff"/>
<line x1="563.6" y1="544.4" x2="663.6" y2="544.4" stroke="#aaa" stroke-width="0.9"/>
<line x1="563.6" y1="556.6" x2="663.6" y2="556.6" stroke="#aaa" stroke-width="0.9"/>
<line x1="563.6" y1="568" x2="663.6" y2="568" stroke="#aaa" stroke-width="0.9"/>
<line x1="563.6" y1="579.4" x2="663.6" y2="579.4" stroke="#aaa" stroke-width="0.9"/>
<line x1="563.6" y1="591" x2="663.6" y2="591" stroke="#aaa" stroke-width="0.9"/>
<line x1="563.6" y1="530" x2="563.6" y2="602" stroke="#bbb" stroke-width="0.8"/>
<text x="568" y="543" font-size="13.2" textLength="95" lengthAdjust="spacingAndGlyphs" font-weight="bold" fill="#111" font-family="&quot;Liberation Mono&quot;,monospace" stroke="#111" stroke-width="0.35">JOINT AND PEG</text>
<text x="568" y="554.5" font-size="8.3" textLength="67" lengthAdjust="spacingAndGlyphs" stroke="#2a2a2a" stroke-width="0.2">1643-B Savannah Hwy</text>
<text x="568" y="565.8" font-size="8.3" textLength="26.6" lengthAdjust="spacingAndGlyphs" stroke="#2a2a2a" stroke-width="0.2">Unit 162</text>
<text x="568" y="577" font-size="8.3" textLength="65.4" lengthAdjust="spacingAndGlyphs" stroke="#2a2a2a" stroke-width="0.2">Charleston, SC 29407</text>
<text x="568" y="588.4" font-size="8.3" textLength="44.6" lengthAdjust="spacingAndGlyphs" stroke="#2a2a2a" stroke-width="0.2">843-480-0885</text>
<text x="568" y="600" font-size="8.3" textLength="67" lengthAdjust="spacingAndGlyphs" stroke="#2a2a2a" stroke-width="0.2">info@jointandpeg.com</text>
<rect x="664" y="530" width="117.3" height="49.4" fill="none" stroke="#1a1a1a" stroke-width="1.6"/>
<line x1="664" y1="579.4" x2="664" y2="602" stroke="#1a1a1a" stroke-width="1.4"/>
<text x="669.6" y="550.2" font-size="16.8" textLength="106.6" lengthAdjust="spacingAndGlyphs" fill="#111" stroke="#111" stroke-width="0.5">JOINT LIBRARY</text>
<text x="719.6" y="563.3" font-size="5.4" textLength="79" lengthAdjust="spacingAndGlyphs" text-anchor="middle" fill="#333">REFER TO LEFT SIDE OF SHEET</text>
<text x="721.8" y="574.9" font-size="5.4" textLength="58.4" lengthAdjust="spacingAndGlyphs" text-anchor="middle" fill="#333">FOR CLASSIFICATIONS</text>
<line x1="664" y1="591" x2="781.3" y2="591" stroke="#333" stroke-width="0.9"/>
<text x="667.4" y="588.4" font-size="5.6" textLength="32" lengthAdjust="spacingAndGlyphs" fill="#333">3D file name:</text>
<text x="704.4" y="588.2" font-size="4.6" textLength="59" lengthAdjust="spacingAndGlyphs" fill="#444">14x24 Square Rule Shed Roof</text>
<text x="667.4" y="600.2" font-size="5.6" textLength="26" lengthAdjust="spacingAndGlyphs" fill="#333">File  name:</text>
<text x="704.4" y="600" font-size="4.6" textLength="66" lengthAdjust="spacingAndGlyphs" fill="#444">14x24 Square Rule Shed Roof 2d</text>
</g>
<text x="788" y="599" font-size="5" textLength="39" lengthAdjust="spacingAndGlyphs" fill="#cfcfcf" transform="rotate(-90 788 599)">Working File name</text>
<text x="788" y="535" font-size="5" textLength="60.5" lengthAdjust="spacingAndGlyphs" fill="#cfcfcf" transform="rotate(-90 788 535)">Latest:  Joint Library Entry</text>
<text x="788" y="437" font-size="5" textLength="17" lengthAdjust="spacingAndGlyphs" fill="#cfcfcf" transform="rotate(-90 788 437)">Layout</text>
<text x="788" y="400.2" font-size="5" textLength="16.2" lengthAdjust="spacingAndGlyphs" fill="#cfcfcf" transform="rotate(-90 788 400.2)">S View</text>
<text x="788" y="310.8" font-size="5" textLength="17.4" lengthAdjust="spacingAndGlyphs" fill="#cfcfcf" transform="rotate(-90 788 310.8)">3D Clicks: 3</text>
</svg>
</body>
</html>
